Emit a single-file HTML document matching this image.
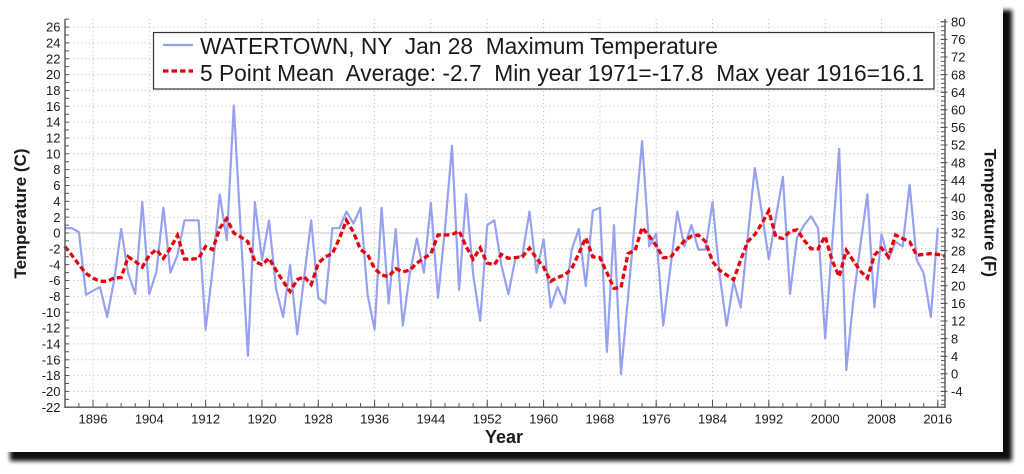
<!DOCTYPE html>
<html><head><meta charset="utf-8"><style>
html,body{margin:0;padding:0;background:#fff;width:1024px;height:474px;overflow:hidden}
svg{display:block}
text{font-family:"Liberation Sans",Arial,sans-serif;fill:#1a1a1a}
</style></head><body>
<svg width="1024" height="474" viewBox="0 0 1024 474" xmlns="http://www.w3.org/2000/svg">
<defs><filter id="b" x="-5%" y="-5%" width="110%" height="110%"><feGaussianBlur stdDeviation="2.2"/></filter></defs>
<rect x="10" y="10" width="1002" height="451" fill="#0d0d0d" filter="url(#b)"/>
<rect x="0" y="0" width="1003" height="452" fill="#fff"/>

<!-- grid -->
<path fill="none" stroke="#c4c4c4" stroke-width="1" stroke-dasharray="1.2,2.8" d="
M65 27.1H945M65 42.9H945M65 58.8H945M65 74.6H945M65 90.4H945M65 106.3H945M65 122.1H945M65 138H945M65 153.8H945M65 169.6H945M65 185.5H945M65 201.3H945M65 217.2H945M65 248.8H945M65 264.7H945M65 280.5H945M65 296.4H945M65 312.2H945M65 328H945M65 343.9H945M65 359.7H945M65 375.6H945M65 391.4H945
M93 19V407M149.3 19V407M205.6 19V407M262 19V407M318.3 19V407M374.6 19V407M430.9 19V407M487.2 19V407M543.6 19V407M599.9 19V407M656.2 19V407M712.5 19V407M768.8 19V407M825.2 19V407M881.5 19V407M937.8 19V407"/>
<line x1="65" y1="233" x2="945" y2="233" stroke="#c8c8c8" stroke-width="1"/>

<!-- series -->
<polyline fill="none" stroke="#97a1f2" stroke-width="2.2" stroke-linejoin="round" points="64.8,228.2 71.9,228.2 78.9,232.2 86,294.8 93,290.8 100,286.9 107.1,317 114.1,280.5 121.2,229 128.2,273.4 135.2,294 142.3,202.1 149.3,294 156.4,271.8 163.4,207.7 170.4,272.6 177.5,255.2 184.5,220.3 191.6,220.3 198.6,220.3 205.6,329.6 212.7,268.6 219.7,194.2 226.8,240.1 233.8,105.5 240.8,233 247.9,355.8 254.9,202.1 262,259.9 269,220.3 276,288.4 283.1,317 290.1,264.7 297.2,334.4 304.2,276.6 311.2,220.3 318.3,297.9 325.3,303.5 332.4,228.2 339.4,228.2 346.4,211.6 353.5,223.5 360.5,207.7 367.6,294.8 374.6,329.6 381.6,207.7 388.7,303.5 395.7,229 402.8,325.7 409.8,273.4 416.8,238.5 423.9,272.6 430.9,202.9 438,297.9 445,229 452,145.9 459.1,290 466.1,194.2 473.2,275 480.2,320.9 487.2,225.1 494.3,220.3 501.3,264.7 508.4,294 515.4,258.3 522.4,255.2 529.5,211.6 536.5,272.6 543.6,239.3 550.6,307.4 557.6,286.9 564.7,303.5 571.7,249.6 578.8,229 585.8,286.1 592.8,210.8 599.9,207.7 606.9,351.8 614,225.1 621,374 628,297.2 635.1,218.7 642.1,141.1 649.2,246.5 656.2,233.8 663.2,325.7 670.3,268.6 677.3,211.6 684.4,246.5 691.4,225.1 698.4,249.6 705.5,249.6 712.5,202.1 719.6,274.2 726.6,325.7 733.6,281.3 740.7,307.4 747.7,237 754.8,168.1 761.8,212.4 768.8,259.1 775.9,217.2 782.9,176.8 790,294 797,237.8 804,225.1 811.1,216.4 818.1,228.2 825.2,338.3 832.2,243.3 839.2,149 846.3,370 853.3,300.3 860.4,244.9 867.4,194.2 874.4,307.4 881.5,234.6 888.5,259.1 895.6,241.7 902.6,246.5 909.6,184.7 916.7,259.9 923.7,273.4 930.8,317 937.8,228.2"/>
<polyline fill="none" stroke="#e5000a" stroke-width="3.3" stroke-dasharray="5.5,3" points="64.8,246.5 71.9,255.2 78.9,264.7 86,273.4 93,278.1 100,281.3 107.1,281.3 114.1,278.1 121.2,277.4 128.2,256.8 135.2,261.5 142.3,267.1 149.3,255.2 156.4,249.6 163.4,258.3 170.4,248 177.5,235.4 184.5,259.1 191.6,259.1 198.6,258.3 205.6,246.5 212.7,249.6 219.7,228.2 226.8,218.7 233.8,233 240.8,237 247.9,241.7 254.9,261.5 262,264.7 269,258.3 276,270.2 283.1,281.3 290.1,291.6 297.2,279.7 304.2,276.6 311.2,284.5 318.3,263.1 325.3,256.8 332.4,253.6 339.4,238.5 346.4,220.3 353.5,232.2 360.5,249.6 367.6,254.4 374.6,268.6 381.6,275 388.7,276.6 395.7,268.6 402.8,271.8 409.8,270.2 416.8,263.1 423.9,258.3 430.9,253.6 438,235 445,235 452,234.6 459.1,231 466.1,246.5 473.2,259.1 480.2,248 487.2,263.1 494.3,264.7 501.3,254.4 508.4,258.3 515.4,257.6 522.4,256.8 529.5,248 536.5,258.3 543.6,267.1 550.6,281.3 557.6,277.4 564.7,275 571.7,268.6 578.8,253.6 585.8,237.8 592.8,256.8 599.9,257.6 606.9,272.6 614,288.4 621,287.6 628,253.6 635.1,250.4 642.1,227.5 649.2,236.2 656.2,245.7 663.2,257.6 670.3,257.6 677.3,248.8 684.4,240.9 691.4,236.2 698.4,235 705.5,241.7 712.5,261.5 719.6,270.2 726.6,275 733.6,279.7 740.7,259.9 747.7,241.7 754.8,234.6 761.8,223.5 768.8,210.8 775.9,237 782.9,238.5 790,231.4 797,229.8 804,240.1 811.1,248.8 818.1,248.8 825.2,236.2 832.2,260.7 839.2,276.6 846.3,250.4 853.3,260.7 860.4,271 867.4,278.1 874.4,255.2 881.5,248 888.5,256.8 895.6,235 902.6,238.5 909.6,241.7 916.7,255.2 923.7,254.4 930.8,253.6 937.8,254.4 944.8,256"/>

<!-- axes -->
<g stroke="#555" fill="none">
<line x1="65" y1="19" x2="65" y2="407.8" stroke-width="1.4"/>
<line x1="945" y1="19" x2="945" y2="407.8" stroke-width="1.4"/>
<line x1="64.3" y1="407.2" x2="945.7" y2="407.2" stroke-width="1.4"/>
<line x1="67" y1="407.74" x2="67" y2="18" stroke-width="4" stroke-dasharray="1,6.92"/>
<line x1="943" y1="405.1" x2="943" y2="20" stroke-width="4" stroke-dasharray="1,3.4"/>
<line x1="944" y1="391.9" x2="944" y2="20" stroke-width="7" stroke-dasharray="1,16.6"/>
<line x1="78.4" y1="405" x2="945" y2="405" stroke-width="4" stroke-dasharray="1,13.08"/>
<line x1="92.5" y1="403.5" x2="945" y2="403.5" stroke-width="7" stroke-dasharray="1,55.32"/>
</g>

<!-- left labels -->
<g font-size="13" text-anchor="end">
<text x="60.5" y="31.7">26</text><text x="60.5" y="47.5">24</text><text x="60.5" y="63.4">22</text><text x="60.5" y="79.2">20</text><text x="60.5" y="95">18</text><text x="60.5" y="110.9">16</text><text x="60.5" y="126.7">14</text><text x="60.5" y="142.6">12</text><text x="60.5" y="158.4">10</text><text x="60.5" y="174.2">8</text><text x="60.5" y="190.1">6</text><text x="60.5" y="205.9">4</text><text x="60.5" y="221.8">2</text><text x="60.5" y="237.6">0</text><text x="60.5" y="253.4">-2</text><text x="60.5" y="269.3">-4</text><text x="60.5" y="285.1">-6</text><text x="60.5" y="301">-8</text><text x="60.5" y="316.8">-10</text><text x="60.5" y="332.6">-12</text><text x="60.5" y="348.5">-14</text><text x="60.5" y="364.3">-16</text><text x="60.5" y="380.2">-18</text><text x="60.5" y="396">-20</text><text x="60.5" y="411.8">-22</text>
</g>
<!-- right labels -->
<g font-size="13">
<text x="951" y="26.5">80</text><text x="951" y="44.1">76</text><text x="951" y="61.7">72</text><text x="951" y="79.3">68</text><text x="951" y="96.9">64</text><text x="951" y="114.5">60</text><text x="951" y="132.1">56</text><text x="951" y="149.7">52</text><text x="951" y="167.3">48</text><text x="951" y="184.9">44</text><text x="951" y="202.5">40</text><text x="951" y="220.1">36</text><text x="951" y="237.7">32</text><text x="951" y="255.3">28</text><text x="951" y="272.9">24</text><text x="951" y="290.5">20</text><text x="951" y="308.1">16</text><text x="951" y="325.7">12</text><text x="951" y="343.3">8</text><text x="951" y="360.9">4</text><text x="951" y="378.5">0</text><text x="951" y="396.1">-4</text>
</g>
<!-- bottom labels -->
<g font-size="13" text-anchor="middle">
<text x="93" y="423.3">1896</text><text x="149.3" y="423.3">1904</text><text x="205.6" y="423.3">1912</text><text x="262" y="423.3">1920</text><text x="318.3" y="423.3">1928</text><text x="374.6" y="423.3">1936</text><text x="430.9" y="423.3">1944</text><text x="487.2" y="423.3">1952</text><text x="543.6" y="423.3">1960</text><text x="599.9" y="423.3">1968</text><text x="656.2" y="423.3">1976</text><text x="712.5" y="423.3">1984</text><text x="768.8" y="423.3">1992</text><text x="825.2" y="423.3">2000</text><text x="881.5" y="423.3">2008</text><text x="937.8" y="423.3">2016</text>
</g>

<!-- axis titles -->
<text font-size="17" font-weight="bold" text-anchor="middle" transform="translate(26,213.5) rotate(-90)">Temperature (C)</text>
<text font-size="17" font-weight="bold" text-anchor="middle" transform="translate(984.5,213) rotate(90)">Temperature (F)</text>
<text x="504" y="443" font-size="18" font-weight="bold" text-anchor="middle">Year</text>

<!-- legend -->
<rect x="153.5" y="32.5" width="780.5" height="56.5" fill="#fff" stroke="#333" stroke-width="1.2"/>
<line x1="163" y1="45" x2="193" y2="45" stroke="#97a1f2" stroke-width="2.2"/>
<line x1="163" y1="71" x2="193" y2="71" stroke="#e5000a" stroke-width="3.3" stroke-dasharray="5.5,3"/>
<text x="200" y="54" font-size="22.75" style="white-space:pre" xml:space="preserve">WATERTOWN, NY  Jan 28  Maximum Temperature</text>
<text x="200" y="81" font-size="22.75" style="white-space:pre" xml:space="preserve">5 Point Mean  Average: -2.7  Min year 1971=-17.8  Max year 1916=16.1</text>
</svg>
</body></html>
